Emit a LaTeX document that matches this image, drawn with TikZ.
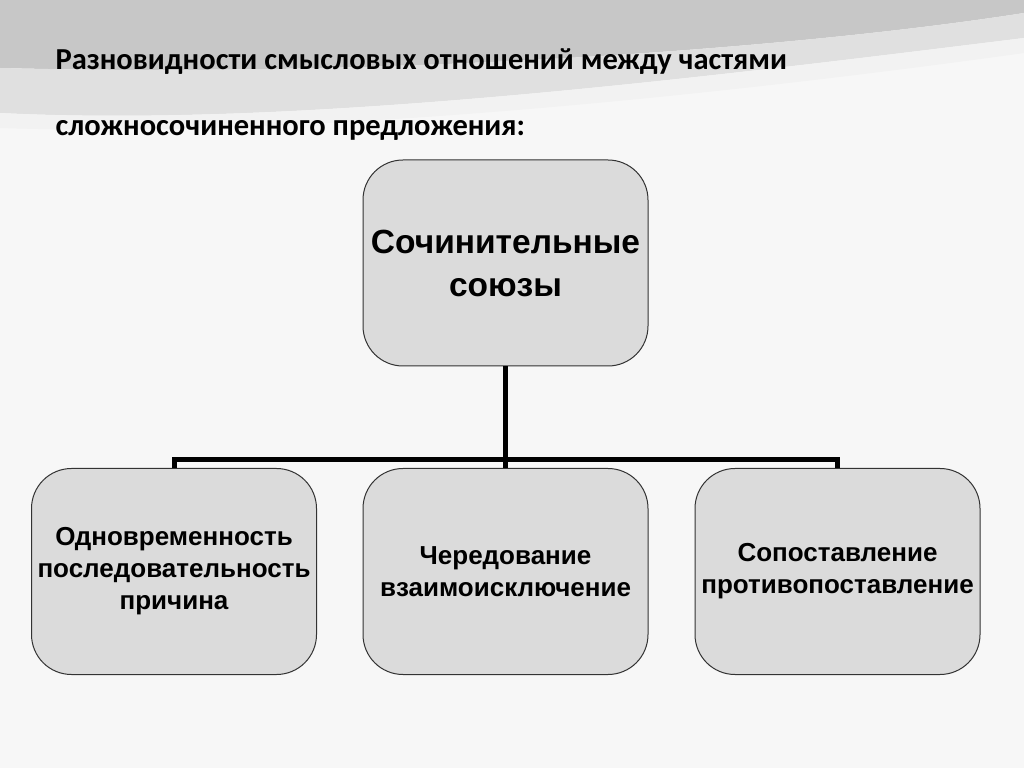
\documentclass[tikz,border=0pt]{standalone}
\usepackage{fontspec}
\setmainfont{Liberation Sans}
\newfontfamily\titlefont{Carlito}
\begin{document}
\begin{tikzpicture}[x=1pt,y=1pt,
 boxs/.style={draw=black!80,line width=1pt,fill=black!14,rounded corners=40pt,minimum width=285pt,minimum height=206pt,align=center,inner sep=2pt},
 conn/.style={line width=5pt}]
\useasboundingbox (0,0) rectangle (1024,768);
\fill[white!97!black] (0,0) rectangle (1024,768);
% top swoosh
\fill[black!22] (0,768) -- (1024,768) -- (1024,755) .. controls (800,720) and (400,690) .. (0,700) -- cycle;
\fill[black!12] (0,700) .. controls (400,690) and (800,720) .. (1024,755) -- (1024,730) .. controls (700,690) and (300,640) .. (0,655) -- cycle;
\fill[black!5] (0,655) .. controls (300,640) and (700,690) .. (1024,730) -- (1024,715) .. controls (700,670) and (300,630) .. (0,640) -- cycle;
\node[anchor=west,font=\titlefont\bfseries\fontsize{30.5}{36}\selectfont] (t1) at (52,706) {Разновидности смысловых отношений между частями};
\node[anchor=west,font=\titlefont\bfseries\fontsize{30.5}{36}\selectfont] (t2) at (52,638) {сложносочиненного предложения:};
\node[boxs,font=\bfseries\fontsize{33.5}{43}\selectfont] (top) at (505.5,505) {Сочинительные\\союзы};
\node[boxs,font=\bfseries\fontsize{26}{32}\selectfont] (b1) at (174,196.5) {Одновременность\\последовательность\\причина};
\node[boxs,font=\bfseries\fontsize{26}{32}\selectfont] (b2) at (505.5,196.5) {Чередование\\взаимоисключение};
\node[boxs,font=\bfseries\fontsize{26}{32}\selectfont] (b3) at (837.5,196.5) {Сопоставление\\противопоставление};
\coordinate (j) at (505.5,308);
\draw[conn] (top.south) -- (j);
\draw[conn] (b1.north) -- (b1.north |- j) -- (b3.north |- j) -- (b3.north);
\draw[conn] (j) -- (b2.north);
\end{tikzpicture}
\end{document}
